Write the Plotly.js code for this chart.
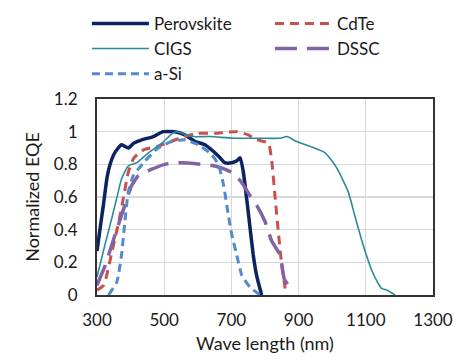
<!DOCTYPE html>
<html>
<head>
<meta charset="utf-8">
<script src="https://cdn.plot.ly/plotly-3.0.1.min.js"></script>
<style>html,body{margin:0;padding:0;background:#fff;}#chart{width:474px;height:364px;}</style>
</head>
<body>
<div id="chart"></div>
<script>
const seriesNames = ["Perovskite", "CdTe", "CIGS", "DSSC", "a-Si"];

const perovskiteX = [300, 310, 319, 330, 339, 350, 363, 373, 383, 393, 410, 433, 468, 497, 532, 562, 592, 621, 646, 666, 680, 701, 715, 726, 735, 750, 765, 775, 790];
const perovskiteY = [0.27, 0.42, 0.55, 0.72, 0.80, 0.86, 0.90, 0.92, 0.91, 0.90, 0.93, 0.95, 0.97, 1.0, 1.0, 0.98, 0.94, 0.92, 0.88, 0.84, 0.81, 0.81, 0.82, 0.84, 0.76, 0.51, 0.245, 0.12, 0.0];

const cdteX = [300, 320, 345, 365, 380, 393, 410, 440, 480, 520, 560, 600, 650, 716, 750, 775, 810, 820, 830, 840, 850, 860];
const cdteY = [0.03, 0.06, 0.27, 0.45, 0.61, 0.75, 0.84, 0.89, 0.91, 0.94, 0.97, 0.99, 0.99, 1.0, 0.98, 0.95, 0.93, 0.82, 0.60, 0.38, 0.18, 0.04];

const cigsX = [300, 324, 344, 363, 373, 393, 418, 453, 493, 532, 582, 636, 706, 780, 845, 865, 894, 934, 979, 1013, 1048, 1068, 1093, 1122, 1147, 1162, 1187];
const cigsY = [0.11, 0.31, 0.47, 0.63, 0.71, 0.79, 0.81, 0.87, 0.93, 1.0, 0.97, 0.97, 0.96, 0.96, 0.96, 0.97, 0.94, 0.91, 0.87, 0.78, 0.63, 0.48, 0.30, 0.13, 0.04, 0.03, 0.0];

const dsscX = [300, 324, 354, 383, 403, 423, 463, 502, 552, 612, 651, 680, 706, 730, 755, 775, 800, 820, 845, 857, 870, 884];
const dsscY = [0.06, 0.18, 0.37, 0.55, 0.67, 0.73, 0.77, 0.80, 0.81, 0.80, 0.79, 0.77, 0.745, 0.69, 0.61, 0.55, 0.45, 0.33, 0.245, 0.10, 0.06, 0.05];

const asiX = [334, 359, 373, 383, 393, 408, 443, 482, 522, 562, 601, 641, 661, 676, 690, 701, 716, 731, 755, 785];
const asiY = [0.0, 0.08, 0.245, 0.45, 0.63, 0.73, 0.82, 0.90, 0.94, 0.95, 0.92, 0.86, 0.80, 0.68, 0.50, 0.37, 0.245, 0.12, 0.05, 0.0];

const xTicks = [300, 500, 700, 900, 1100, 1300];
const yTicks = [0, 0.2, 0.4, 0.6, 0.8, 1, 1.2];

const FONT = "Lato, 'Liberation Sans', sans-serif";

function tr(name, x, y, color, width, dash) {
  return {type: 'scatter', mode: 'lines', name: name, x: x, y: y,
    line: {color: color, width: width, dash: dash, shape: 'spline', smoothing: 0.5}};
}

const data = [
  tr(seriesNames[0], perovskiteX, perovskiteY, '#0c2263', 3.5, 'solid'),
  tr(seriesNames[1], cdteX, cdteY, '#c9504e', 3, '9px,6px'),
  tr(seriesNames[2], cigsX, cigsY, '#2a8a9a', 1.6, 'solid'),
  tr(seriesNames[3], dsscX, dsscY, '#8462a6', 3.5, '22px,10px'),
  tr(seriesNames[4], asiX, asiY, '#528bcb', 3, '8px,5px')
];

const layout = {
  width: 474, height: 364,
  margin: {l: 97, r: 41, t: 99, b: 69, autoexpand: false},
  paper_bgcolor: '#fff', plot_bgcolor: '#fff',
  font: {family: FONT, size: 17, color: '#1a1a1a'},
  showlegend: true,
  legend: {orientation: 'h', x: -0.03, xanchor: 'left', y: 1.475, yanchor: 'top',
    entrywidth: 111, itemwidth: 57, font: {family: FONT, size: 17, color: '#1a1a1a'}, bgcolor: 'rgba(0,0,0,0)'},
  xaxis: {range: [300, 1300], tickvals: xTicks, ticktext: xTicks.map(String),
    showgrid: true, gridcolor: '#d9d9d9', gridwidth: 1.3, zeroline: false,
    showline: true, mirror: true, linecolor: '#333', linewidth: 2,
    ticks: '', ticklabelstandoff: 9,
    title: {text: 'Wave length (nm)', font: {family: FONT, size: 18}, standoff: 8}},
  yaxis: {range: [0, 1.2], tickvals: yTicks, ticktext: yTicks.map(String),
    showgrid: true, gridcolor: '#d9d9d9', gridwidth: 1.3, zeroline: false,
    showline: true, mirror: true, linecolor: '#333', linewidth: 2,
    ticks: '', ticklabelstandoff: 14,
    title: {text: 'Normalized EQE', font: {family: FONT, size: 18}, standoff: 10}}
};

Plotly.newPlot('chart', data, layout, {displayModeBar: false, staticPlot: true});
</script>
</body>
</html>
